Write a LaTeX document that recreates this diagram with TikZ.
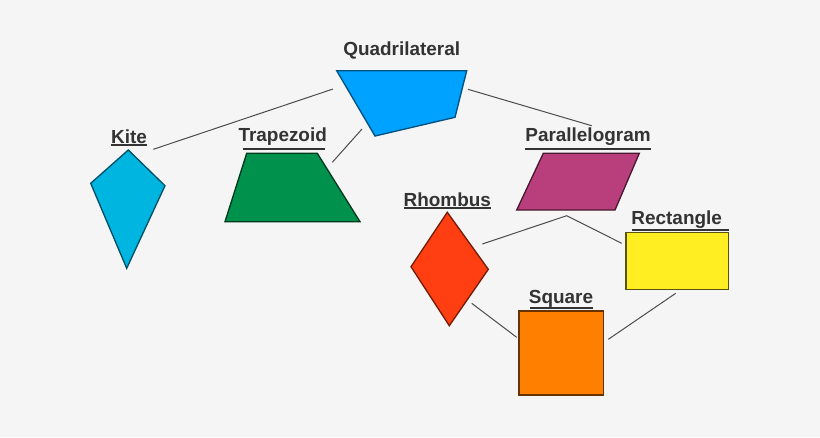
\documentclass[tikz,border=0pt]{standalone}
\usepackage{fontspec}
\setmainfont{Liberation Sans}
\definecolor{bg}{HTML}{F5F5F5}
\definecolor{txt}{HTML}{333333}
\definecolor{cquad}{HTML}{00A2FF}
\definecolor{ckite}{HTML}{00B5E0}
\definecolor{ctrap}{HTML}{00914C}
\definecolor{cpar}{HTML}{B83E7C}
\definecolor{crhom}{HTML}{FF3E11}
\definecolor{crect}{HTML}{FFEE22}
\definecolor{csq}{HTML}{FF8000}
\tikzset{
  lbl/.style={font=\fontsize{14.2}{16}\selectfont\bfseries, text=txt, inner sep=0pt},
  uline/.style={draw=txt, line width=1.5pt},
  conn/.style={draw=black!70, line width=0.75pt},
  shp/.style={line width=1pt, line join=miter},
}
\begin{document}
\begin{tikzpicture}[x=0.75pt,y=-0.75pt]
\fill[bg] (0,0) rectangle (820,437);
\useasboundingbox (0,0) rectangle (820,437);

% shapes
\draw[shp, fill=cquad, draw=cquad!50!black] (336.7,70.7) -- (466.7,70.7) -- (455,117.3) -- (375,136) -- cycle;
\draw[shp, fill=ckite, draw=ckite!45!black] (128.3,150) -- (165,185.7) -- (126.7,268.3) -- (90.7,183.3) -- cycle;
\draw[shp, fill=ctrap, draw=ctrap!40!black] (246.7,153.3) -- (317.3,153.3) -- (360,221.7) -- (225,221.7) -- cycle;
\draw[shp, fill=cpar, draw=cpar!40!black] (543.3,153.3) -- (639.3,153.3) -- (615,210) -- (516.7,210) -- cycle;
\draw[shp, fill=crhom, draw=crhom!45!black] (447.3,212.3) -- (488.3,269.3) -- (449.3,325.7) -- (411,266.7) -- cycle;
\draw[shp, fill=crect, draw=crect!35!black] (626,232.7) rectangle (728.3,289.3);
\draw[shp, fill=csq, draw=csq!40!black] (519,311) rectangle (603.3,395);

% labels
\node[lbl] (quad) at (401.7,50.7) {Quadrilateral};
\node[lbl] (kite) at (129,136.7) {Kite};
\node[lbl] (trap) at (282.7,136.7) {Trapezoid};
\node[lbl] (par) at (588,136.7) {Parallelogram};
\node[lbl] (rhom) at (447.3,199.3) {Rhombus};
\node[lbl] (rect) at (676.7,220) {Rectangle};
\node[lbl] (sq) at (561,299) {Square};

% underlines
\draw[uline] (110.7,145) -- (146.7,145);
\draw[uline] (243.3,149.3) -- (325,149.3);
\draw[uline] (525,149.3) -- (650.7,149.3);
\draw[uline] (404,208) -- (490.7,208);
\draw[uline] (631.7,230) -- (729,230);
\draw[uline] (530,308.3) -- (592.7,308.3);

% connector end points
\coordinate (qk) at (333,89);
\coordinate (kq) at (153.3,149.3);
\coordinate (qt) at (362,129);
\coordinate (tq) at (332.3,162.3);
\coordinate (qp) at (468,89.3);
\coordinate (pq) at (591.7,125.7);
\coordinate (papex) at (566.7,215.7);
\coordinate (pr) at (482.3,244);
\coordinate (pc) at (621.7,243.3);
\coordinate (rs) at (471.7,303.3);
\coordinate (sr) at (516.7,337.3);
\coordinate (cs) at (675.7,293.3);
\coordinate (sc) at (608.3,339.3);

\draw[conn] (qk) -- (kq);
\draw[conn] (qt) -- (tq);
\draw[conn] (qp) -- (pq);
\draw[conn] (pr) -- (papex) -- (pc);
\draw[conn] (rs) -- (sr);
\draw[conn] (cs) -- (sc);
\end{tikzpicture}
\end{document}
